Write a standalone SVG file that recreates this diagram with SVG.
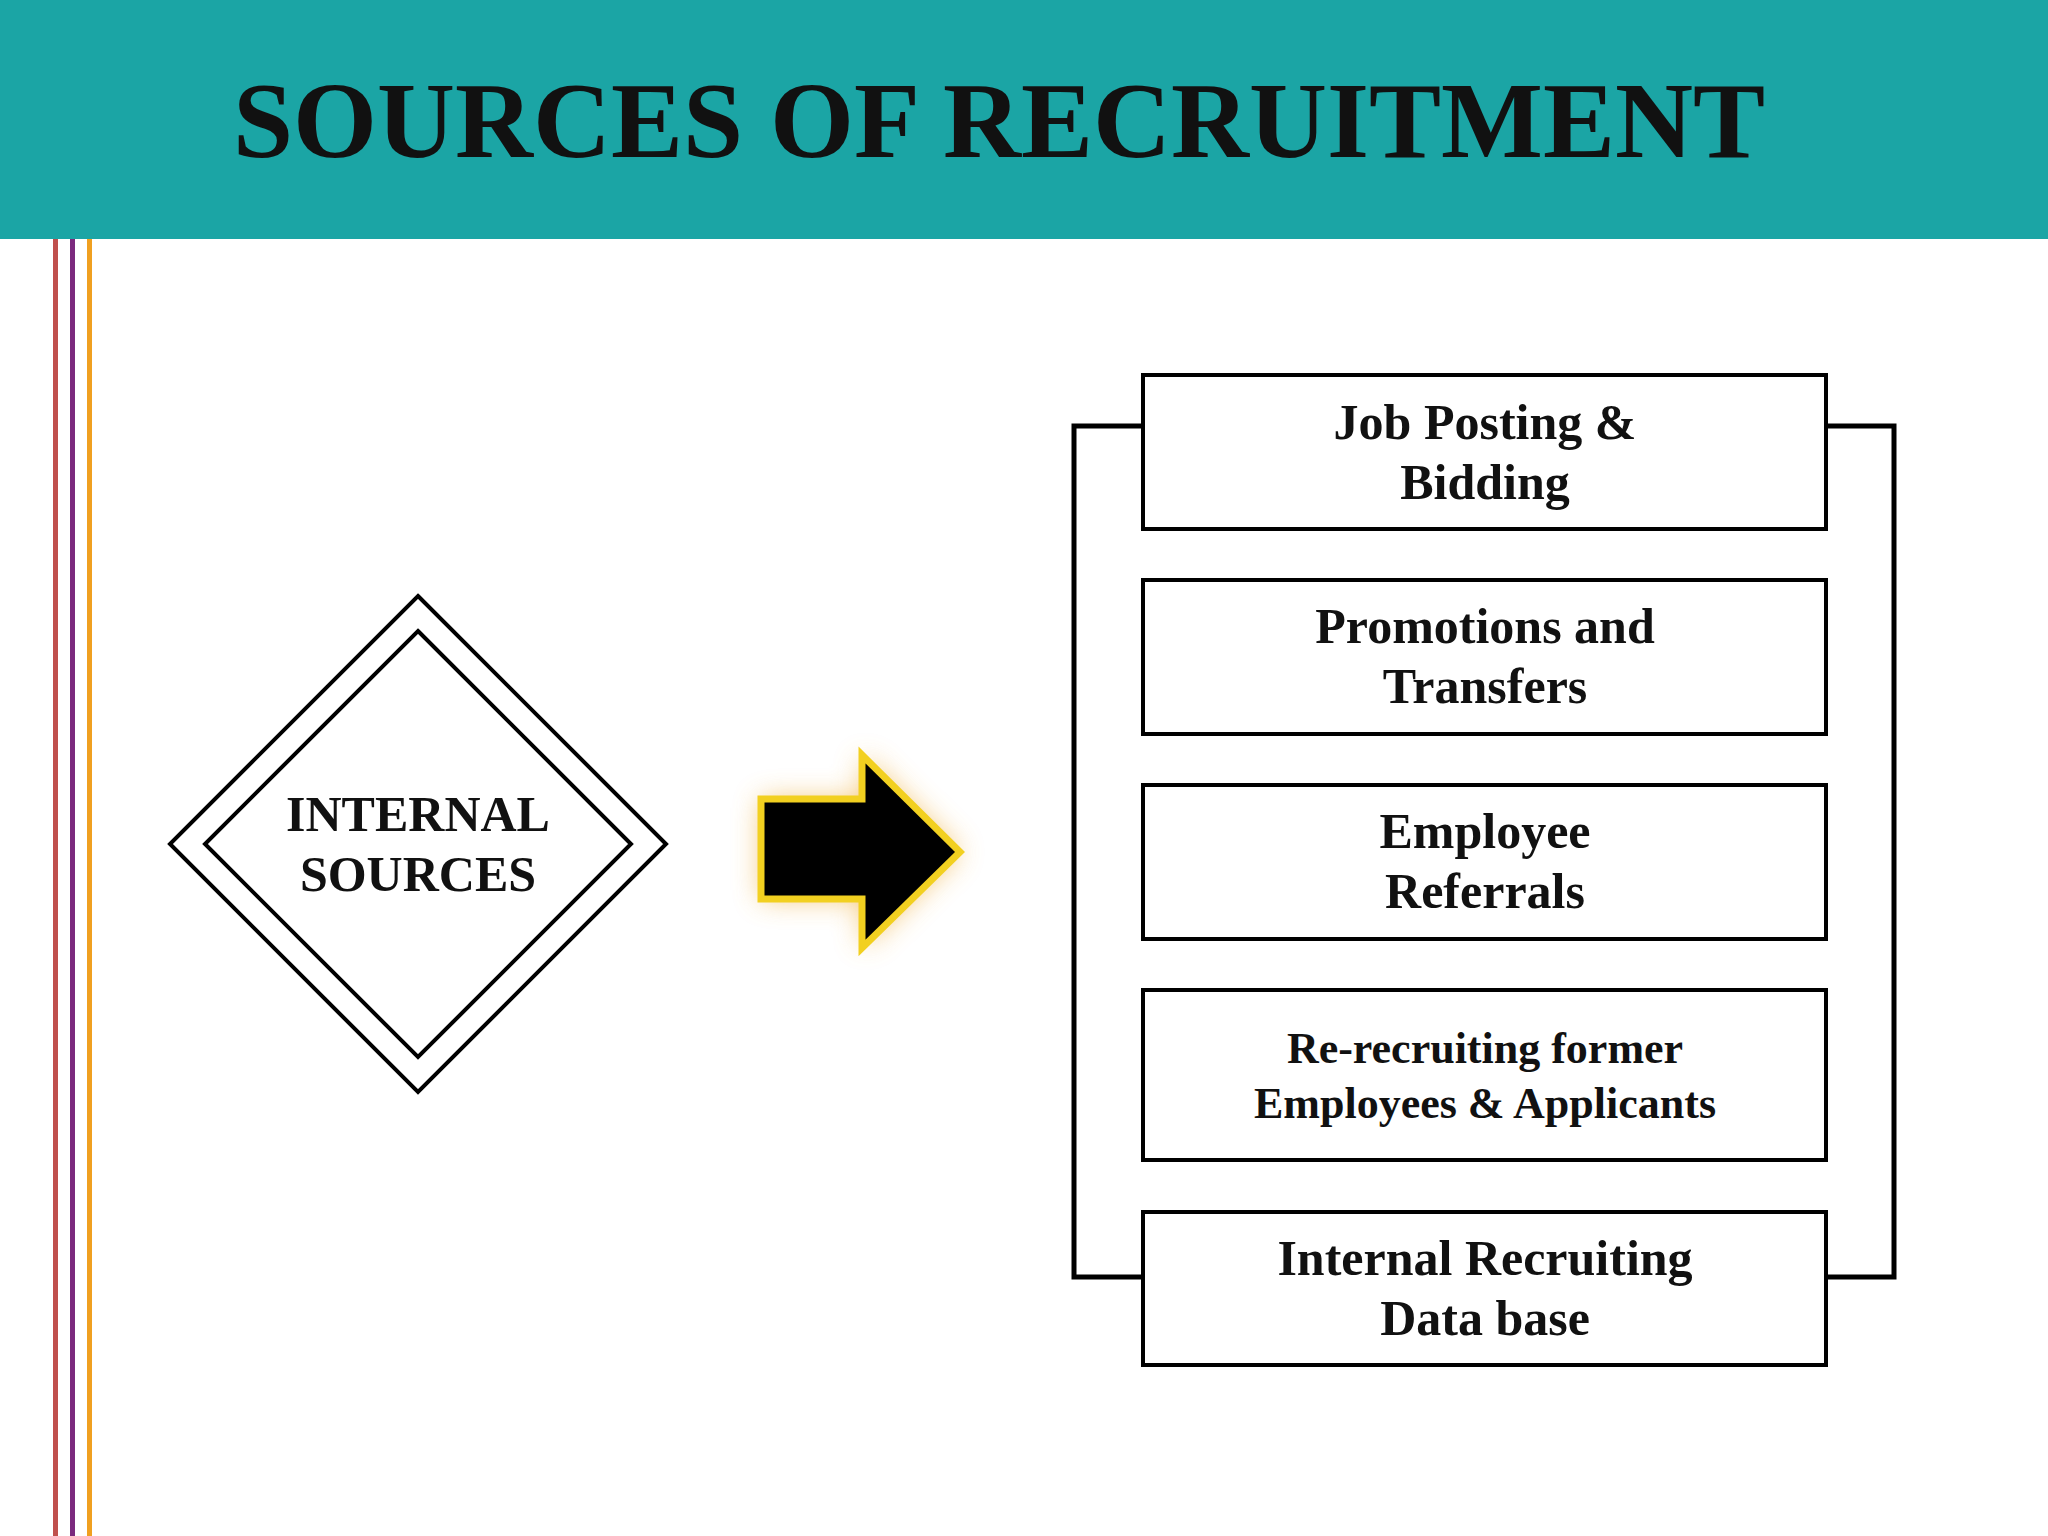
<svg xmlns="http://www.w3.org/2000/svg" width="2048" height="1536" viewBox="0 0 2048 1536">
<style>
.t{font-family:"Liberation Serif","DejaVu Serif",serif;font-weight:bold;fill:#111;text-anchor:middle}
.b{fill:#fff;stroke:#000;stroke-width:4}
</style>
<defs>
<filter id="glow" x="-50%" y="-50%" width="200%" height="200%"><feGaussianBlur stdDeviation="14"/></filter>
</defs>
<rect width="2048" height="1536" fill="#fff"/>
<rect width="2048" height="239" fill="#1ba5a5"/>
<text class="t" x="999" y="157" font-size="108">SOURCES OF RECRUITMENT</text>
<rect x="53" y="239" width="5" height="1297" fill="#c0504d"/>
<rect x="70" y="239" width="5" height="1297" fill="#7b2a7e"/>
<rect x="87" y="239" width="5" height="1297" fill="#f0a020"/>
<g id="internal">
<polygon points="418,596 666,844 418,1092 170,844" fill="#fff" stroke="#000" stroke-width="4"/>
<polygon points="418,631 631,844 418,1057 205,844" fill="none" stroke="#000" stroke-width="4"/>
<text class="t" x="418" y="831" font-size="50">INTERNAL</text>
<text class="t" x="418" y="891" font-size="50">SOURCES</text>
</g>
<g id="arrow">
<polygon points="761,799 862,799 862,755 960,852 862,948 862,899 761,899" fill="#f0b040" opacity="0.7" filter="url(#glow)"/>
<polygon points="761,799 862,799 862,755 960,852 862,948 862,899 761,899" fill="#000" stroke="#f2d020" stroke-width="7" stroke-linejoin="miter"/>
</g>
<g id="connectors" fill="none" stroke="#000" stroke-width="5">
<polyline points="1143,426 1074,426 1074,1277 1143,1277"/>
<polyline points="1826,426 1894,426 1894,1277 1826,1277"/>
</g>
<g id="n1"><rect class="b" x="1143" y="375" width="683" height="154"/>
<text class="t" x="1485" y="439" font-size="50">Job Posting  &amp;</text><text class="t" x="1485" y="499" font-size="50">Bidding</text></g>
<g id="n2"><rect class="b" x="1143" y="580" width="683" height="154"/>
<text class="t" x="1485" y="643" font-size="50">Promotions and</text><text class="t" x="1485" y="703" font-size="50">Transfers</text></g>
<g id="n3"><rect class="b" x="1143" y="785" width="683" height="154"/>
<text class="t" x="1485" y="848" font-size="50">Employee</text><text class="t" x="1485" y="908" font-size="50">Referrals</text></g>
<g id="n4"><rect class="b" x="1143" y="990" width="683" height="170"/>
<text class="t" x="1485" y="1063" font-size="44">Re-recruiting former</text><text class="t" x="1485" y="1118" font-size="44">Employees &amp; Applicants</text></g>
<g id="n5"><rect class="b" x="1143" y="1212" width="683" height="153"/>
<text class="t" x="1485" y="1275" font-size="50">Internal Recruiting</text><text class="t" x="1485" y="1335" font-size="50">Data base</text></g>
</svg>
